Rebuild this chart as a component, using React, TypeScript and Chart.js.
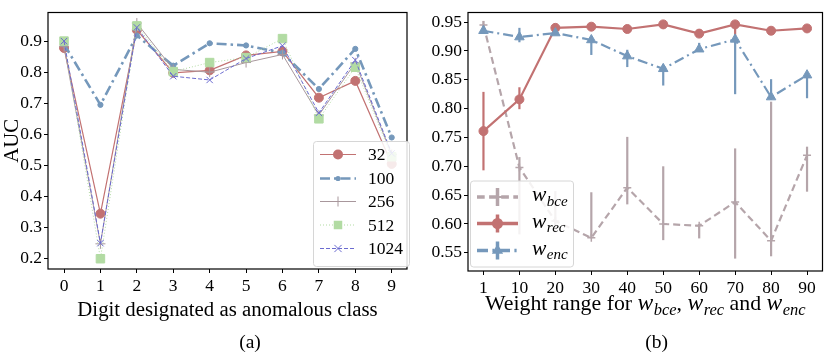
import React, { useEffect, useRef } from "react";
import { Chart, registerables } from "chart.js";

Chart.register(...registerables);

// ---------------- data: panel (a) ----------------
const digits = [0, 1, 2, 3, 4, 5, 6, 7, 8, 9];
const auc32 = [0.878, 0.345, 0.936, 0.798, 0.806, 0.854, 0.867, 0.718, 0.772, 0.505];
const auc100 = [0.89, 0.695, 0.918, 0.821, 0.893, 0.886, 0.862, 0.746, 0.875, 0.59];
const auc256 = [0.882, 0.248, 0.958, 0.809, 0.8, 0.831, 0.857, 0.662, 0.83, 0.535];
const auc512 = [0.9, 0.2, 0.949, 0.802, 0.831, 0.847, 0.908, 0.65, 0.816, 0.528];
const auc1024 = [0.9, 0.25, 0.944, 0.787, 0.775, 0.844, 0.885, 0.669, 0.839, 0.539];
const aucTicks = [0.2, 0.3, 0.4, 0.5, 0.6, 0.7, 0.8, 0.9];
const seriesNamesA = ["32", "100", "256", "512", "1024"];

// ---------------- data: panel (b) ----------------
const weightLabels = ["1", "10", "20", "30", "40", "50", "60", "70", "80", "90"];
const bceMean = [0.945, 0.698, 0.605, 0.576, 0.663, 0.6, 0.597, 0.638, 0.571, 0.719];
const bceLow = [0.94, 0.582, 0.585, 0.575, 0.634, 0.572, 0.575, 0.54, 0.544, 0.656];
const bceHigh = [0.952, 0.716, 0.657, 0.655, 0.751, 0.7, 0.6, 0.731, 0.812, 0.734];
const recMean = [0.761, 0.816, 0.94, 0.942, 0.938, 0.946, 0.93, 0.946, 0.935, 0.939];
const recLow = [0.693, 0.799, 0.937, 0.939, 0.935, 0.943, 0.927, 0.926, 0.932, 0.935];
const recHigh = [0.829, 0.837, 0.943, 0.945, 0.941, 0.949, 0.933, 0.95, 0.938, 0.943];
const encMean = [0.935, 0.924, 0.931, 0.919, 0.891, 0.869, 0.903, 0.92, 0.82, 0.858];
const encLow = [0.932, 0.915, 0.928, 0.893, 0.872, 0.84, 0.9, 0.825, 0.815, 0.818];
const encHigh = [0.938, 0.94, 0.934, 0.925, 0.902, 0.872, 0.914, 0.925, 0.851, 0.862];
const weightTicks = [0.55, 0.6, 0.65, 0.7, 0.75, 0.8, 0.85, 0.9, 0.95];
const seriesNamesB = ["bce", "rec", "enc"];

// ---------------- styles ----------------
const SERIF = '"Liberation Serif"';
const RED = "#c27272";
const BLUE = "#7598bb";
const GRAY = "#b5a5aa";
const GREEN = "#b2dba3";
const PURPLE = "#6b6bd0";

type Mk = "circle" | "cross" | "crossRot" | "rect" | "triangle";

const stylesA = [
  { color: RED, width: 1.2, dash: [] as number[], mk: "circle" as Mk, r: 4.5, bw: 1 },
  { color: BLUE, width: 2.6, dash: [10, 4, 2.5, 4], mk: "circle" as Mk, r: 2.6, bw: 1 },
  { color: "#a8979c", width: 1, dash: [] as number[], mk: "cross" as Mk, r: 5, bw: 1 },
  { color: GREEN, width: 1, dash: [1, 2], mk: "rect" as Mk, r: 6, bw: 1 },
  { color: PURPLE, width: 1, dash: [4, 2], mk: "crossRot" as Mk, r: 4.5, bw: 1 },
];
const stylesB = [
  { color: GRAY, width: 2.2, dash: [7, 4], mk: "cross" as Mk, r: 4, bw: 1.5 },
  { color: RED, width: 2.2, dash: [] as number[], mk: "circle" as Mk, r: 4.5, bw: 1 },
  { color: BLUE, width: 2.2, dash: [10, 4, 2, 4], mk: "triangle" as Mk, r: 5.5, bw: 1 },
];

function drawMarker(ctx: CanvasRenderingContext2D, mk: Mk, x: number, y: number, r: number, color: string, bw: number) {
  ctx.save();
  ctx.setLineDash([]);
  ctx.fillStyle = color;
  ctx.strokeStyle = color;
  ctx.lineWidth = bw;
  ctx.beginPath();
  if (mk === "circle") {
    ctx.arc(x, y, r, 0, Math.PI * 2);
    ctx.fill();
  } else if (mk === "rect") {
    const s = r * Math.SQRT2;
    ctx.fillRect(x - s / 2, y - s / 2, s, s);
  } else if (mk === "triangle") {
    ctx.moveTo(x, y - r);
    ctx.lineTo(x + r * 0.866, y + r * 0.5);
    ctx.lineTo(x - r * 0.866, y + r * 0.5);
    ctx.closePath();
    ctx.fill();
  } else if (mk === "cross") {
    ctx.moveTo(x - r, y);
    ctx.lineTo(x + r, y);
    ctx.moveTo(x, y - r);
    ctx.lineTo(x, y + r);
    ctx.stroke();
  } else if (mk === "crossRot") {
    const d = r * 0.8;
    ctx.moveTo(x - d, y - d);
    ctx.lineTo(x + d, y + d);
    ctx.moveTo(x + d, y - d);
    ctx.lineTo(x - d, y + d);
    ctx.stroke();
  }
  ctx.restore();
}

function roundRect(ctx: CanvasRenderingContext2D, x: number, y: number, w: number, h: number, r: number) {
  ctx.beginPath();
  ctx.moveTo(x + r, y);
  ctx.lineTo(x + w - r, y);
  ctx.quadraticCurveTo(x + w, y, x + w, y + r);
  ctx.lineTo(x + w, y + h - r);
  ctx.quadraticCurveTo(x + w, y + h, x + w - r, y + h);
  ctx.lineTo(x + r, y + h);
  ctx.quadraticCurveTo(x, y + h, x, y + h - r);
  ctx.lineTo(x, y + r);
  ctx.quadraticCurveTo(x, y, x + r, y);
  ctx.closePath();
}

function drawFrame(chart: any) {
  const { ctx, chartArea: a } = chart;
  ctx.save();
  ctx.strokeStyle = "#000";
  ctx.lineWidth = 1.2;
  ctx.setLineDash([]);
  ctx.strokeRect(a.left, a.top, a.right - a.left, a.bottom - a.top);
  ctx.restore();
}

// math w with subscript; returns width
function mathW(ctx: CanvasRenderingContext2D, sub: string, x: number, y: number, size: number, draw: boolean) {
  ctx.font = `italic ${size}px ${SERIF}`;
  const w1 = ctx.measureText("w").width;
  const subSize = size * 0.7;
  ctx.font = `italic ${subSize}px ${SERIF}`;
  const w2 = ctx.measureText(sub).width;
  if (draw) {
    ctx.font = `italic ${size}px ${SERIF}`;
    ctx.fillText("w", x, y);
    ctx.font = `italic ${subSize}px ${SERIF}`;
    ctx.fillText(sub, x + w1 + 0.5, y + size * 0.22);
  }
  return w1 + 0.5 + w2;
}

const errorBarPlugin = {
  id: "errorBars",
  beforeDatasetDraw(chart: any, args: any) {
    const ds = chart.data.datasets[args.index];
    if (!ds.errLow) return;
    const ctx = chart.ctx;
    const ys = chart.scales.y;
    ctx.save();
    ctx.strokeStyle = ds.borderColor;
    ctx.lineWidth = 2.2;
    ctx.setLineDash([]);
    args.meta.data.forEach((pt: any, i: number) => {
      ctx.beginPath();
      ctx.moveTo(pt.x, ys.getPixelForValue(ds.errLow[i]));
      ctx.lineTo(pt.x, ys.getPixelForValue(ds.errHigh[i]));
      ctx.stroke();
    });
    ctx.restore();
  },
};

const decorA = {
  id: "decorA",
  afterDraw(chart: any) {
    const ctx: CanvasRenderingContext2D = chart.ctx;
    const a = chart.chartArea;
    drawFrame(chart);
    // y label
    ctx.save();
    ctx.fillStyle = "#000";
    ctx.font = `20.8px ${SERIF}`;
    ctx.textAlign = "center";
    ctx.textBaseline = "middle";
    ctx.translate(12.5, (a.top + a.bottom) / 2);
    ctx.rotate(-Math.PI / 2);
    ctx.fillText("AUC", 0, 0);
    ctx.restore();
    // x label + caption
    ctx.save();
    ctx.fillStyle = "#000";
    ctx.textAlign = "center";
    ctx.textBaseline = "alphabetic";
    ctx.font = `20.8px ${SERIF}`;
    ctx.fillText("Digit designated as anomalous class", (a.left + a.right) / 2, 316);
    ctx.font = `19.5px ${SERIF}`;
    ctx.fillText("(a)", 250, 348);
    ctx.restore();
    // legend
    ctx.save();
    roundRect(ctx, 313.5, 141.5, 96, 125, 3);
    ctx.fillStyle = "rgba(255,255,255,0.85)";
    ctx.fill();
    ctx.strokeStyle = "#d6d6d6";
    ctx.lineWidth = 1;
    ctx.stroke();
    const rows = [154.5, 178.5, 201.5, 225, 248.5];
    seriesNamesA.forEach((name, i) => {
      const s = stylesA[i];
      const y = rows[i];
      ctx.beginPath();
      ctx.strokeStyle = s.color;
      ctx.lineWidth = s.width;
      ctx.setLineDash(s.dash);
      ctx.moveTo(320, y);
      ctx.lineTo(356, y);
      ctx.stroke();
      ctx.setLineDash([]);
      drawMarker(ctx, s.mk, 338, y, s.mk === "circle" && i === 0 ? 5 : s.r, s.color, s.bw);
      ctx.fillStyle = "#000";
      ctx.font = `17.5px ${SERIF}`;
      ctx.textAlign = "left";
      ctx.textBaseline = "middle";
      ctx.fillText(name, 368, y + 1);
    });
    ctx.restore();
  },
};

const OFFB = 414;
const decorB = {
  id: "decorB",
  afterDraw(chart: any) {
    const ctx: CanvasRenderingContext2D = chart.ctx;
    const a = chart.chartArea;
    drawFrame(chart);
    // x label with math
    ctx.save();
    ctx.fillStyle = "#000";
    ctx.textAlign = "left";
    ctx.textBaseline = "alphabetic";
    const parts: any[] = [
      { t: "Weight range for " },
      { m: "bce" },
      { t: ", " },
      { m: "rec" },
      { t: " and " },
      { m: "enc" },
    ];
    const widthOf = (p: any, size: number) => {
      if (p.t !== undefined) {
        ctx.font = `${size}px ${SERIF}`;
        return ctx.measureText(p.t).width;
      }
      return mathW(ctx, p.m, 0, 0, size * 1.08, false);
    };
    const base = parts.reduce((s, p) => s + widthOf(p, 20), 0);
    const size = 20 * (321 / base);
    const total = parts.reduce((s, p) => s + widthOf(p, size), 0);
    let x = (a.left + a.right) / 2 - total / 2;
    const yb = 310;
    parts.forEach((p) => {
      const w = widthOf(p, size);
      if (p.t !== undefined) {
        ctx.font = `${size}px ${SERIF}`;
        ctx.fillText(p.t, x, yb);
      } else {
        mathW(ctx, p.m, x, yb, size * 1.08, true);
      }
      x += w;
    });
    ctx.textAlign = "center";
    ctx.font = `19.5px ${SERIF}`;
    ctx.fillText("(b)", 656.7 - OFFB, 348);
    ctx.restore();
    // legend
    ctx.save();
    roundRect(ctx, 470.5 - OFFB, 181, 103, 86, 3);
    ctx.fillStyle = "rgba(255,255,255,0.85)";
    ctx.fill();
    ctx.strokeStyle = "#d6d6d6";
    ctx.lineWidth = 1;
    ctx.stroke();
    const rows = [197, 223.5, 250.5];
    const x0 = 477 - OFFB;
    const x1 = 518 - OFFB;
    const xm = (x0 + x1) / 2;
    seriesNamesB.forEach((name, i) => {
      const s = stylesB[i];
      const y = rows[i];
      ctx.beginPath();
      ctx.strokeStyle = s.color;
      ctx.lineWidth = 3.5;
      ctx.setLineDash(s.dash.map((d) => d * 1.1));
      ctx.moveTo(x0, y);
      ctx.lineTo(x1, y);
      ctx.stroke();
      ctx.setLineDash([]);
      ctx.beginPath();
      ctx.moveTo(xm, y - 9);
      ctx.lineTo(xm, y + 9);
      ctx.stroke();
      drawMarker(ctx, s.mk, xm, y, s.r + 1, s.color, 2);
      ctx.fillStyle = "#000";
      mathW(ctx, name, 532 - OFFB, y + 4, 21.5, true);
    });
    ctx.restore();
  },
};

const tickFont = { family: SERIF, size: 17.5 };
const gridOpts = { display: true, drawOnChartArea: false, drawTicks: true, tickLength: 4, color: "#000", lineWidth: 1 };

function PanelA() {
  const ref = useRef<HTMLCanvasElement>(null);
  useEffect(() => {
    const values = [auc32, auc100, auc256, auc512, auc1024];
    const chart = new Chart(ref.current!, {
      type: "line",
      data: {
        datasets: values.map((vals, i) => {
          const s = stylesA[i];
          return {
            label: seriesNamesA[i],
            data: digits.map((d, j) => ({ x: d, y: vals[j] })),
            borderColor: s.color,
            backgroundColor: s.color,
            borderWidth: s.width,
            borderDash: s.dash,
            pointStyle: s.mk,
            pointRadius: s.r,
            pointBorderWidth: s.bw,
            pointBackgroundColor: s.color,
            pointBorderColor: s.color,
            tension: 0,
            fill: false,
            order: 10 - i,
          } as any;
        }),
      },
      options: {
        animation: false,
        responsive: false,
        maintainAspectRatio: false,
        devicePixelRatio: 1,
        layout: { padding: { top: 1, right: 3, left: 0, bottom: 0 } },
        plugins: { legend: { display: false }, tooltip: { enabled: false } },
        scales: {
          x: {
            type: "linear",
            min: -0.44,
            max: 9.42,
            afterBuildTicks: (s: any) => {
              s.ticks = digits.map((v) => ({ value: v }));
            },
            afterFit: (s: any) => {
              s.height = 85;
            },
            grid: gridOpts,
            border: { display: false },
            ticks: { font: tickFont, color: "#000", padding: 3, maxRotation: 0, autoSkip: false, callback: (v: any) => String(v) },
          },
          y: {
            type: "linear",
            min: 0.167,
            max: 0.992,
            afterBuildTicks: (s: any) => {
              s.ticks = aucTicks.map((v) => ({ value: v }));
            },
            afterFit: (s: any) => {
              s.width = 48;
            },
            grid: gridOpts,
            border: { display: false },
            ticks: { font: tickFont, color: "#000", padding: 2, autoSkip: false, callback: (v: any) => Number(v).toFixed(1) },
          },
        },
      } as any,
      plugins: [decorA],
    });
    return () => chart.destroy();
  }, []);
  return <canvas ref={ref} width={414} height={354} style={{ position: "absolute", left: 0, top: 0, display: "block" }} />;
}

function PanelB() {
  const ref = useRef<HTMLCanvasElement>(null);
  useEffect(() => {
    const means = [bceMean, recMean, encMean];
    const lows = [bceLow, recLow, encLow];
    const highs = [bceHigh, recHigh, encHigh];
    const chart = new Chart(ref.current!, {
      type: "line",
      data: {
        datasets: means.map((vals, i) => {
          const s = stylesB[i];
          return {
            label: seriesNamesB[i],
            data: weightLabels.map((_, j) => ({ x: j, y: vals[j] })),
            errLow: lows[i],
            errHigh: highs[i],
            borderColor: s.color,
            backgroundColor: s.color,
            borderWidth: s.width,
            borderDash: s.dash,
            pointStyle: s.mk,
            pointRadius: s.r,
            pointBorderWidth: s.bw,
            pointBackgroundColor: s.color,
            pointBorderColor: s.color,
            tension: 0,
            fill: false,
            order: 10 - i,
          } as any;
        }),
      },
      options: {
        animation: false,
        responsive: false,
        maintainAspectRatio: false,
        devicePixelRatio: 1,
        layout: { padding: { top: 1, right: 3, left: 0, bottom: 0 } },
        plugins: { legend: { display: false }, tooltip: { enabled: false } },
        scales: {
          x: {
            type: "linear",
            min: -0.43,
            max: 9.43,
            afterBuildTicks: (s: any) => {
              s.ticks = weightLabels.map((_, j) => ({ value: j }));
            },
            afterFit: (s: any) => {
              s.height = 83;
            },
            grid: gridOpts,
            border: { display: false },
            ticks: {
              font: tickFont,
              color: "#000",
              padding: 3,
              maxRotation: 0,
              autoSkip: false,
              callback: (v: any) => weightLabels[Math.round(Number(v))],
            },
          },
          y: {
            type: "linear",
            min: 0.5185,
            max: 0.9666,
            afterBuildTicks: (s: any) => {
              s.ticks = weightTicks.map((v) => ({ value: v }));
            },
            afterFit: (s: any) => {
              s.width = 54;
            },
            grid: gridOpts,
            border: { display: false },
            ticks: { font: tickFont, color: "#000", padding: 2, autoSkip: false, callback: (v: any) => Number(v).toFixed(2) },
          },
        },
      } as any,
      plugins: [errorBarPlugin, decorB],
    });
    return () => chart.destroy();
  }, []);
  return <canvas ref={ref} width={415} height={354} style={{ position: "absolute", left: OFFB, top: 0, display: "block" }} />;
}

export default function App() {
  return (
    <div style={{ position: "fixed", left: 0, top: 0, width: 829, height: 354, background: "#fff" }}>
      <PanelA />
      <PanelB />
    </div>
  );
}
